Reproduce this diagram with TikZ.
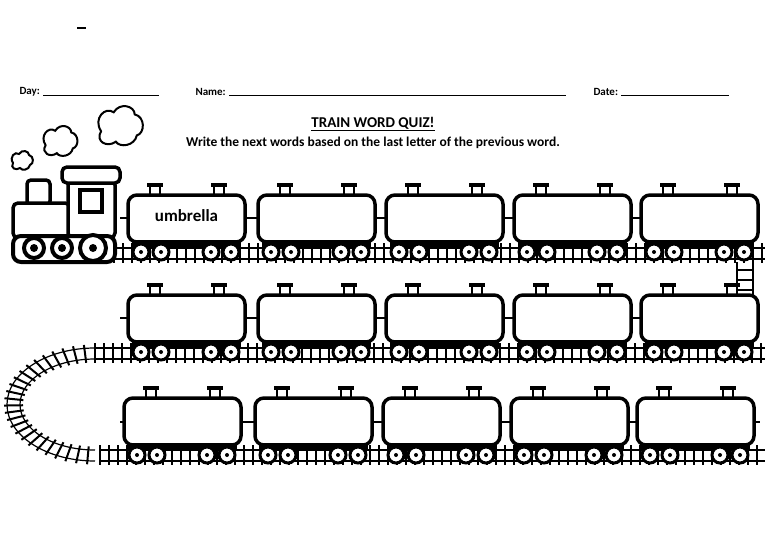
\documentclass[tikz,border=0pt]{standalone}
\usepackage{fontspec}
\setmainfont{Carlito}[BoldFont={Carlito Bold}]
\begin{document}
\begin{tikzpicture}[x=1pt,y=-1pt,
  body/.style={draw,line width=3.5pt,rounded corners=9pt,fill=white},
  thick3/.style={line width=2.5pt},
  rail/.style={line width=1.2pt},
  tie/.style={line width=2pt},
  wheel/.style={draw,line width=3pt,fill=white},
  pics/tank/.style n args={1}{code={
    \draw[thick3,fill=white] (22,-9) rectangle (32,0);
    \draw[line width=3.5pt] (19,-10) -- (35,-10);
    \draw[thick3,fill=white] (86,-9) rectangle (96,0);
    \draw[line width=3.5pt] (83,-10) -- (99,-10);
    \draw[body] (0,0) rectangle (117,47);
    \node[font=\fontsize{17}{20}\selectfont\bfseries] at (58.5,21) {#1};
    \fill (4,45) rectangle (113,53);
    \foreach \wx in {13,33,83,103}{
      \draw[wheel] (\wx,57) circle (8);
      \fill (\wx,57) circle (2);}
  }},
  pics/track/.style={code={
    \foreach \tx in {0,9,...,#1}{\draw[tie] (\tx,-2) -- (\tx,18);}
    \draw[rail] (0,3) -- (#1,3);
    \draw[rail] (0,14) -- (#1,14);
  }}
]
\useasboundingbox (0,0) rectangle (768,543);
% header
\draw[line width=2pt] (77,28) -- (86,28);
\node[font=\fontsize{11}{13}\selectfont\bfseries,anchor=west] (day) at (16,92) {Day: \rule[-1pt]{116pt}{0.6pt}};
\node[font=\fontsize{11}{13}\selectfont\bfseries,anchor=west] (name) at (192,92) {Name: \rule[-1pt]{337pt}{0.6pt}};
\node[font=\fontsize{11}{13}\selectfont\bfseries,anchor=west] (date) at (590,92) {Date: \rule[-1pt]{108pt}{0.6pt}};
\node[font=\fontsize{15}{18}\selectfont\bfseries] (title) at (373,124) {\underline{TRAIN WORD QUIZ!}};
\node[font=\fontsize{13.5}{16}\selectfont\bfseries] (sub) at (373,143) {Write the next words based on the last letter of the previous word.};
% tracks
\foreach \ty/\tx/\tw in {245/105/660,345/95/670,447/100/665}{
  \pic at (\tx,\ty) {track=\tw};}
% curved track
\foreach \a in {270,263,...,90}{
  \draw[tie] ({95+72*cos(\a)},{404.5+42*sin(\a)}) -- ({95+91*cos(\a)},{404.5+60*sin(\a)});}
\draw[rail] (95,359) arc[start angle=270,end angle=90,x radius=75,y radius=45.5];
\draw[rail] (95,348) arc[start angle=270,end angle=90,x radius=88,y radius=56.5];
% ladder
\draw[line width=2pt] (737,262) -- (737,300) (753,262) -- (753,300);
\foreach \ly in {270,280,290}{\draw[line width=2pt] (737,\ly) -- (753,\ly);}
% couplers
\foreach \cy in {218,318}{\draw[line width=1.2pt] (120,\cy) -- (760,\cy);}
\draw[line width=1.2pt] (120,422) -- (760,422);
% cars
\pic at (128,195) {tank=umbrella};
\foreach \cx in {258,386,514,641}{\pic at (\cx,195) {tank={}};}
\foreach \cx in {128,258,386,514,641}{\pic at (\cx,295) {tank={}};}
\foreach \cx in {124,255,383,511,637}{\pic at (\cx,398) {tank={}};}
% clouds
\foreach \cxx/\cyy/\s in {22/161/1,60/142/1.6,120/127/2.1}{
  \begin{scope}[shift={(\cxx,\cyy)},scale=\s]
  \draw[line width=2pt,fill=white] (-9,2) .. controls (-13,-4) and (-7,-10) .. (-3,-7)
    .. controls (0,-12) and (7,-10) .. (7,-6) .. controls (12,-5) and (12,3) .. (8,4)
    .. controls (7,9) and (0,10) .. (-2,7) .. controls (-6,10) and (-12,7) .. (-9,2) -- cycle;
  \end{scope}}
% locomotive
\draw[line width=3.5pt,rounded corners=4pt,fill=white] (27,180) rectangle (50,205);
\draw[line width=3.5pt,rounded corners=5pt,fill=white] (13,203) rectangle (70,238);
\draw[line width=3.5pt,rounded corners=5pt,fill=white] (68,180) rectangle (115,238);
\draw[line width=3.5pt,rounded corners=5pt,fill=white] (62,167) rectangle (120,183);
\draw[line width=3.5pt,fill=white] (80,190) rectangle (102,212);
\draw[line width=4pt,rounded corners=8pt,fill=white] (13,236) rectangle (115,262);
\foreach \wx/\wr in {34/10,62/10,93/13}{
  \draw[line width=4pt,fill=white] (\wx,248) circle (\wr);
  \fill (\wx,248) circle (4);}
\end{tikzpicture}
\end{document}
